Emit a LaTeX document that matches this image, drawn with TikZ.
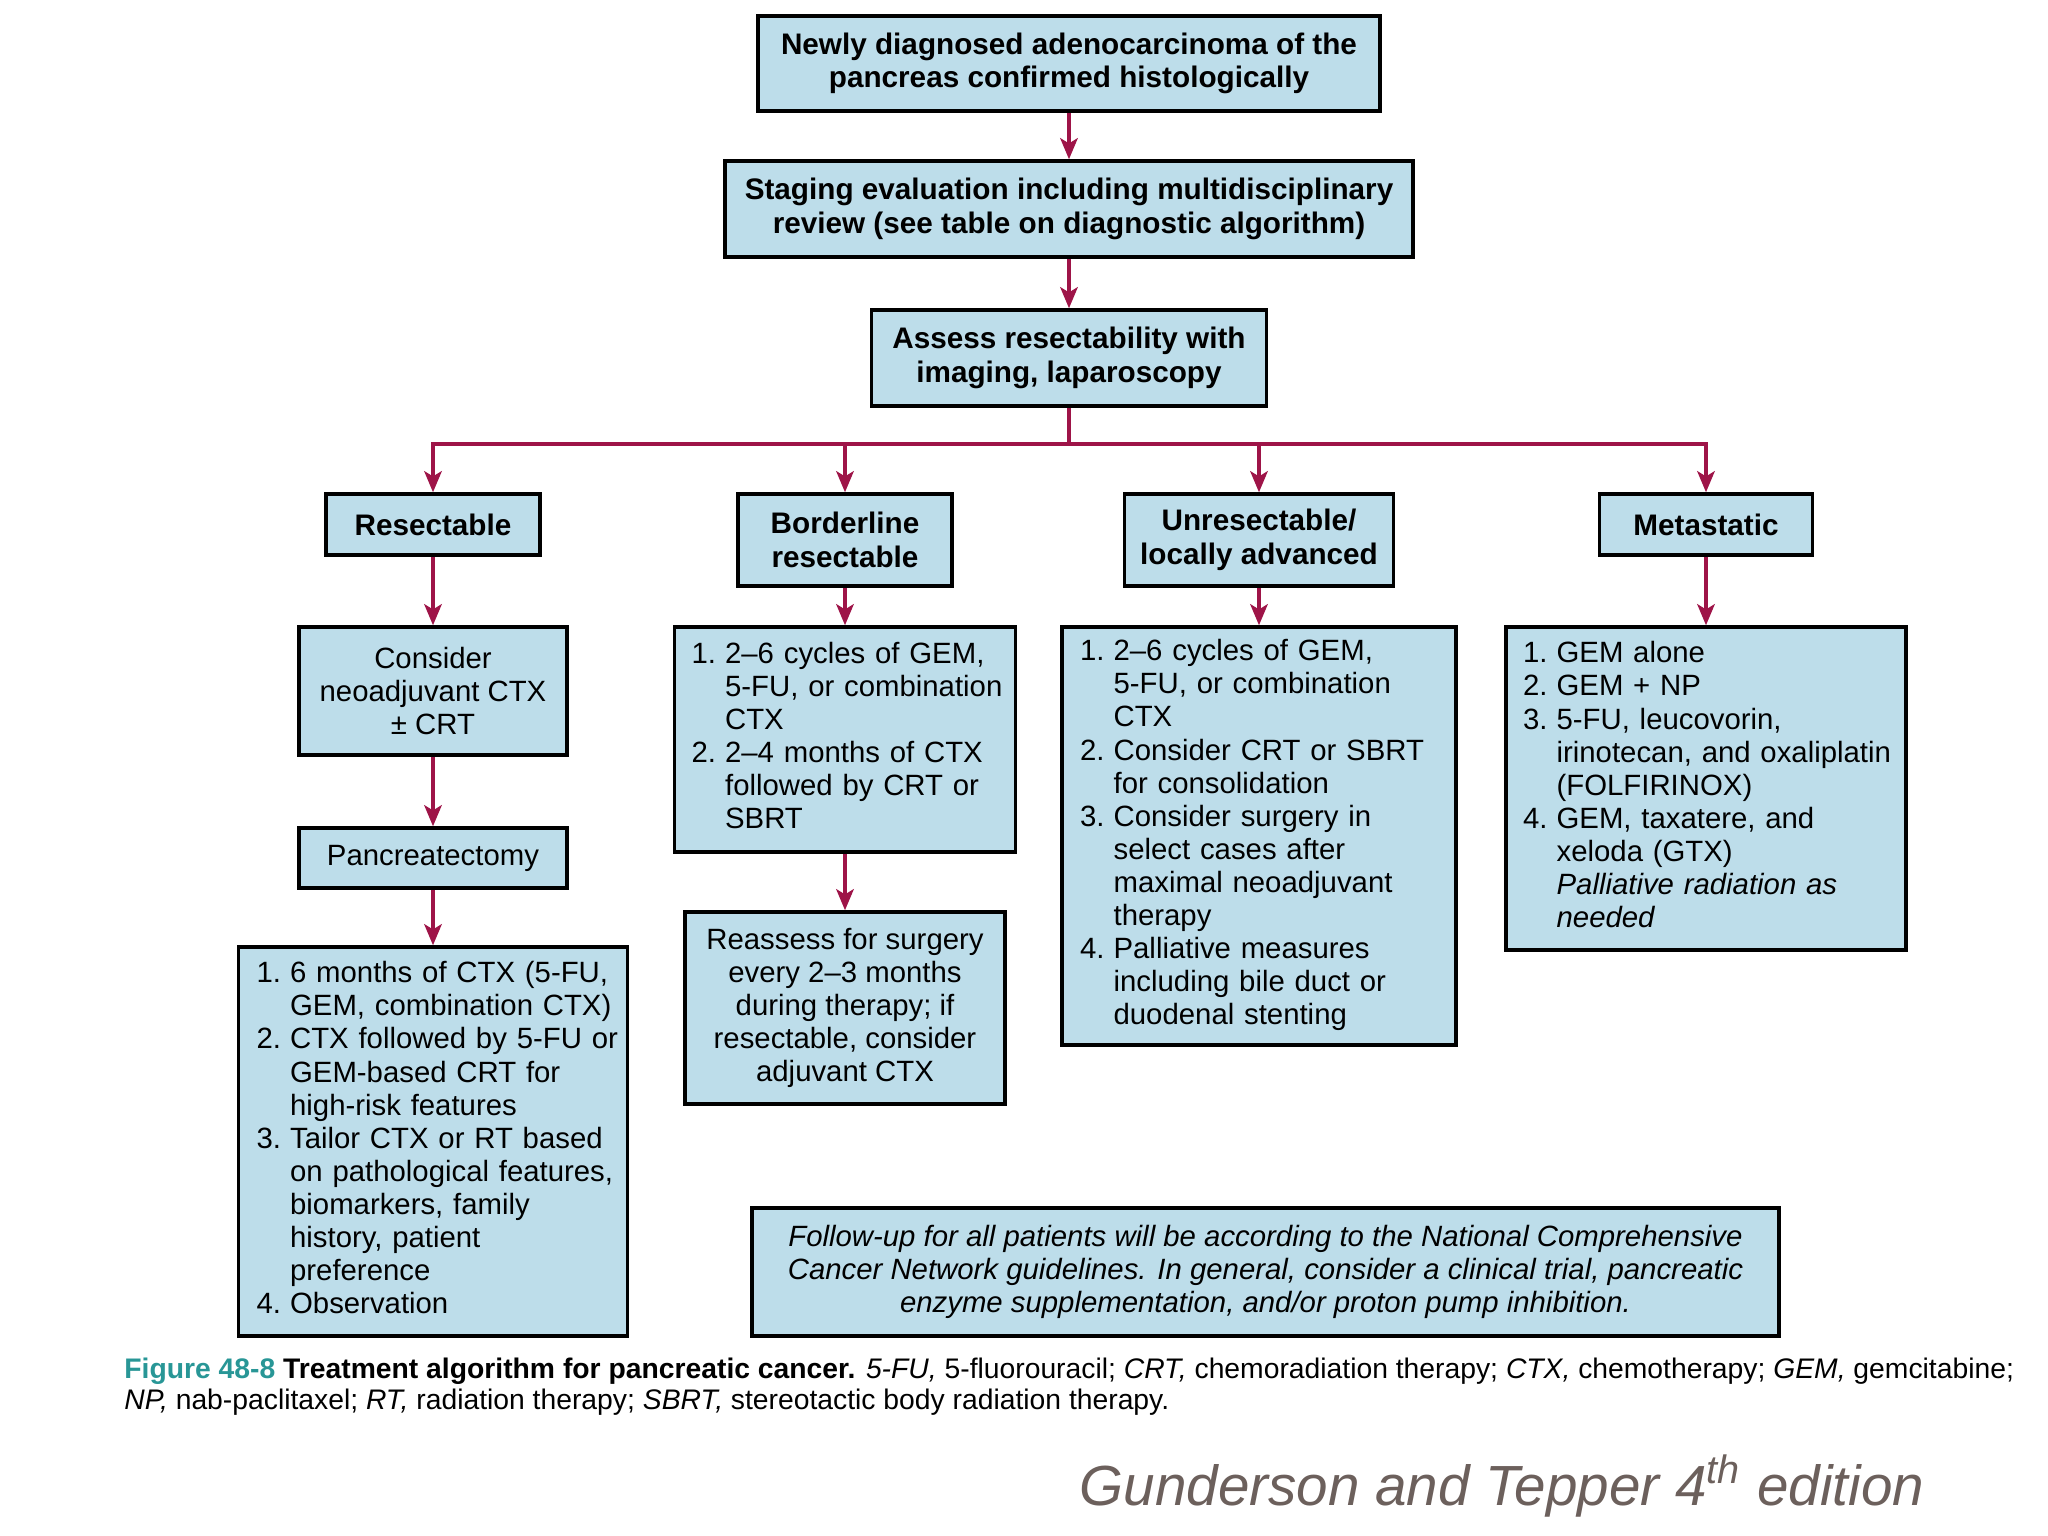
\documentclass[tikz,border=0pt]{standalone}
\usepackage{fontspec}
\setmainfont{Liberation Sans}
\usepackage{tikz}
\usetikzlibrary{shapes, arrows.meta, calc, positioning}

\definecolor{boxblue}{RGB}{189,221,234}
\definecolor{linkred}{RGB}{158,20,72}
\definecolor{figteal}{RGB}{40,150,150}
\definecolor{creditgray}{RGB}{108,96,92}

\newcommand{\boxtext}{\fontsize{8.35}{9.4}\selectfont}
\newcommand{\headtext}{\fontsize{8.45}{9.5}\selectfont\bfseries}

\begin{document}
\begin{tikzpicture}[style=thick,
    box/.style={draw,line width=1pt,fill=boxblue,inner sep=0pt,align=center,font=\boxtext},
    head/.style={box,font=\headtext},
    arr/.style={draw=linkred,line width=0.95pt,-{Stealth[length=6pt,width=5pt,inset=1.5pt]}}]

    \useasboundingbox (0,0) rectangle (20.48,-15.36);

    \node[head,minimum width=6.22cm,minimum height=0.95cm] (diag) at (10.69,-0.635) {Newly diagnosed adenocarcinoma of the\\pancreas confirmed histologically};
    \node[head,minimum width=6.88cm,minimum height=0.96cm] (staging) at (10.69,-2.09) {Staging evaluation including multidisciplinary\\review (see table on diagnostic algorithm)};
    \node[head,minimum width=3.95cm,minimum height=0.96cm] (assess) at (10.69,-3.58) {Assess resectability with\\imaging, laparoscopy};
    \coordinate (bar) at (10.69,-4.44);

    \node[head,minimum width=2.14cm,minimum height=0.61cm] (res) at (4.33,-5.245) {Resectable};
    \node[head,minimum width=2.14cm,minimum height=0.92cm] (bord) at (8.45,-5.40) {Borderline\\resectable};
    \node[head,minimum width=2.69cm,minimum height=0.92cm] (unres) at (12.59,-5.40) {Unresectable/\\locally advanced};
    \node[head,minimum width=2.13cm,minimum height=0.61cm] (meta) at (17.06,-5.245) {Metastatic};

    \node[box,minimum width=2.68cm,minimum height=1.28cm] (res_1) at (4.33,-6.91) {Consider\\neoadjuvant CTX\\± CRT};
    \node[box,minimum width=2.68cm,minimum height=0.60cm] (res_2) at (4.33,-8.58) {Pancreatectomy};
    \node[box,align=left,text width=3.53cm,minimum width=3.89cm,minimum height=3.89cm] (res_3) at (4.33,-11.415) {%
      \begin{tabular}{@{}l@{\hspace{2.6pt}}l@{}}
      1. & 6 months of CTX (5-FU,\\
         & GEM, combination CTX)\\
      2. & CTX followed by 5-FU or\\
         & GEM-based CRT for\\
         & high-risk features\\
      3. & Tailor CTX or RT based\\
         & on pathological features,\\
         & biomarkers, family\\
         & history, patient\\
         & preference\\
      4. & Observation
      \end{tabular}};

    \node[box,align=left,text width=3.07cm,minimum width=3.41cm,minimum height=2.25cm] (bord_1) at (8.45,-7.395) {%
      \begin{tabular}{@{}l@{\hspace{2.6pt}}l@{}}
      1. & 2--6 cycles of GEM,\\
         & 5-FU, or combination\\
         & CTX\\
      2. & 2--4 months of CTX\\
         & followed by CRT or\\
         & SBRT
      \end{tabular}};
    \node[box,minimum width=3.20cm,minimum height=1.92cm] (bord_2) at (8.45,-10.08) {Reassess for surgery\\every 2--3 months\\during therapy; if\\resectable, consider\\adjuvant CTX};

    \node[box,align=left,text width=3.58cm,minimum width=3.94cm,minimum height=4.18cm] (unres_1) at (12.59,-8.36) {%
      \begin{tabular}{@{}l@{\hspace{2.6pt}}l@{}}
      1. & 2--6 cycles of GEM,\\
         & 5-FU, or combination\\
         & CTX\\
      2. & Consider CRT or SBRT\\
         & for consolidation\\
      3. & Consider surgery in\\
         & select cases after\\
         & maximal neoadjuvant\\
         & therapy\\
      4. & Palliative measures\\
         & including bile duct or\\
         & duodenal stenting
      \end{tabular}};

    \node[box,align=left,text width=3.66cm,minimum width=4.00cm,minimum height=3.23cm] (meta_1) at (17.06,-7.885) {%
      \begin{tabular}{@{}l@{\hspace{2.6pt}}l@{}}
      1. & GEM alone\\
      2. & GEM + NP\\
      3. & 5-FU, leucovorin,\\
         & irinotecan, and oxaliplatin\\
         & (FOLFIRINOX)\\
      4. & GEM, taxatere, and\\
         & xeloda (GTX)\\
         & \textit{Palliative radiation as}\\
         & \textit{needed}
      \end{tabular}};

    \node[box,font=\boxtext\itshape,minimum width=10.27cm,minimum height=1.28cm] (follow) at (12.655,-12.72) {Follow-up for all patients will be according to the National Comprehensive\\Cancer Network guidelines. In general, consider a clinical trial, pancreatic\\enzyme supplementation, and/or proton pump inhibition.};

    \draw [arr] (diag) -- (staging);
    \draw [arr] (staging) -- (assess);
    \draw [draw=linkred,line width=0.95pt] (assess) -- (bar);
    \draw [arr] (bar) -| (res);
    \draw [arr] (bar) -| (bord);
    \draw [arr] (bar) -| (unres);
    \draw [arr] (bar) -| (meta);

    \draw [arr] (res) -- (res_1);
    \draw [arr] (res_1) -- (res_2);
    \draw [arr] (res_2) -- (res_3);
    \draw [arr] (bord) -- (bord_1);
    \draw [arr] (bord_1) -- (bord_2);
    \draw [arr] (unres) -- (unres_1);
    \draw [arr] (meta) -- (meta_1);

    \node[anchor=west,align=left,inner sep=0pt,font=\fontsize{8.05}{8.9}\selectfont] (caption) at (1.23,-13.87) {{\color{figteal}\bfseries Figure 48-8} \textbf{Treatment algorithm for pancreatic cancer.} \textit{5-FU,} 5-fluorouracil; \textit{CRT,} chemoradiation therapy; \textit{CTX,} chemotherapy; \textit{GEM,} gemcitabine;\\\textit{NP,} nab-paclitaxel; \textit{RT,} radiation therapy; \textit{SBRT,} stereotactic body radiation therapy.};

    \node[inner sep=0pt,text=creditgray,font=\fontsize{16.1}{18}\selectfont\itshape] (credit) at (15.02,-14.86) {Gunderson and Tepper 4\textsuperscript{th} edition};
\end{tikzpicture}
\end{document}
